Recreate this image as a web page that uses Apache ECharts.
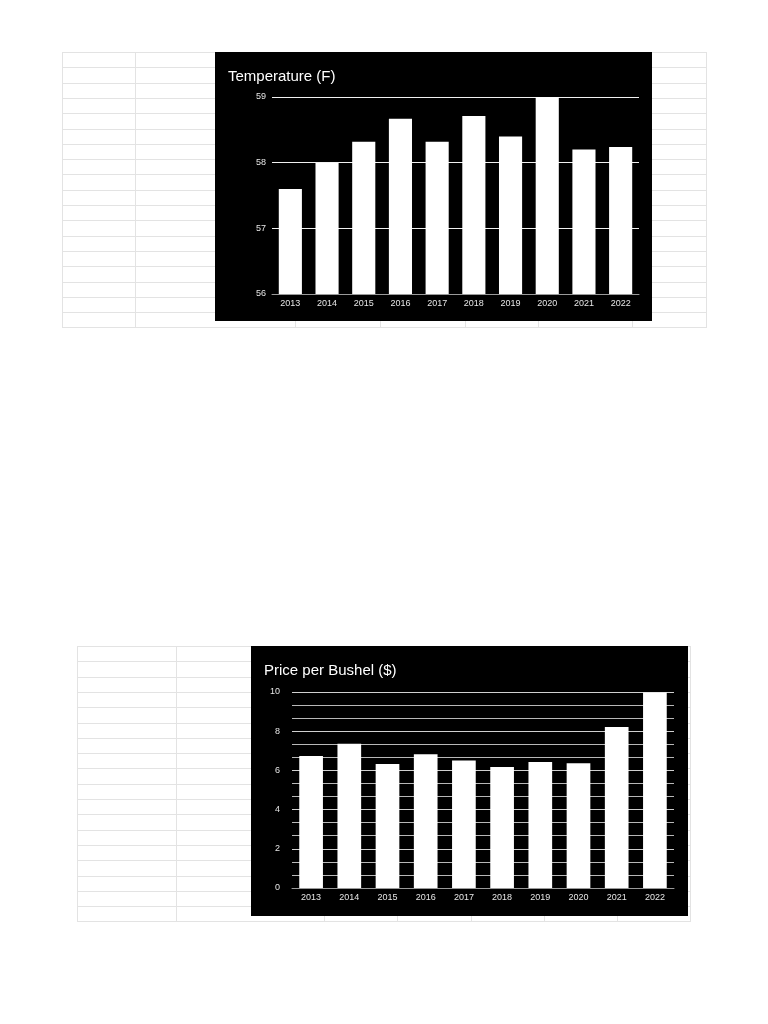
<!DOCTYPE html>
<html>
<head>
<meta charset="utf-8">
<script src="https://cdn.jsdelivr.net/npm/echarts@6/dist/echarts.min.js"></script>
<style>
  html, body { margin: 0; padding: 0; background: #ffffff; width: 768px; height: 1024px; overflow: hidden; }
  .sheet { position: absolute; border-top: 1px solid #e3e3e3; border-left: 1px solid #e3e3e3; border-right: 1px solid #e3e3e3; box-sizing: border-box;
    background-image: repeating-linear-gradient(to bottom, transparent 0px, transparent 14.3px, #e3e3e3 14.3px, #e3e3e3 15.3px); }
  .col { position: absolute; width: 1px; background: #e3e3e3; }
  .chart { position: absolute; background: #000000; }
</style>
</head>
<body>
<div id="sheet1" class="sheet" style="left:62px; top:52px; width:645px; height:276px;"></div>
<div id="sheet2" class="sheet" style="left:77px; top:646px; width:614px; height:276px;"></div>
<div id="c1" class="chart" style="left:215px; top:52px; width:437px; height:269px;"></div>
<div id="c2" class="chart" style="left:251px; top:646px; width:437px; height:270px;"></div>
<script>
// ---- data ----
const years = ['2013','2014','2015','2016','2017','2018','2019','2020','2021','2022'];
const temperatureF = [57.6, 58.0, 58.32, 58.67, 58.32, 58.71, 58.4, 59.0, 58.2, 58.24];
const pricePerBushel = [6.73, 7.36, 6.33, 6.82, 6.51, 6.17, 6.43, 6.36, 8.21, 9.97];
const titleTemp = 'Temperature (F)';
const titlePrice = 'Price per Bushel ($)';

// ---- spreadsheet column lines (decoration) ----
function addCols(xs, top, h) {
  xs.forEach(function (x) {
    const d = document.createElement('div');
    d.className = 'col';
    d.style.left = x + 'px'; d.style.top = top + 'px'; d.style.height = h + 'px';
    document.body.insertBefore(d, document.getElementById('c1'));
  });
}
addCols([135, 295, 380, 465, 538, 632], 52, 276);
addCols([176, 324, 397, 471, 544, 617], 646, 276);

const font = 'Liberation Sans, Arial, sans-serif';

function makeOption(title, data, yMin, yMax, interval, gridCfg, withMinor, labelMargin, gap) {
  return {
    backgroundColor: '#000000',
    animation: false,
    title: {
      text: title, left: 8, top: 12,
      textStyle: { color: '#ffffff', fontSize: 15, fontWeight: 'normal', fontFamily: font }
    },
    grid: gridCfg,
    xAxis: {
      type: 'category', data: years,
      axisLine: { show: true, lineStyle: { color: '#9a9a9a', width: 1 } },
      axisTick: { show: false },
      axisLabel: { color: '#e6e6e6', fontSize: 9, fontFamily: font, margin: 5 },
      splitLine: { show: false }
    },
    yAxis: {
      type: 'value', min: yMin, max: yMax, interval: interval,
      axisLine: { show: false }, axisTick: { show: false },
      axisLabel: { color: '#e6e6e6', fontSize: 9, fontFamily: font, margin: labelMargin },
      splitLine: { show: true, lineStyle: { color: withMinor ? '#d0d0d0' : '#f0f0f0', width: 1 } },
      minorTick: { show: false, splitNumber: 3 },
      minorSplitLine: { show: withMinor, lineStyle: { color: '#b8b8b8', width: 1 } }
    },
    series: [{
      type: 'bar', data: data, barCategoryGap: gap,
      itemStyle: { color: '#ffffff' }
    }]
  };
}

const c1 = echarts.init(document.getElementById('c1'));
c1.setOption(makeOption(titleTemp, temperatureF, 56, 59, 1,
  { left: 57, right: 13, top: 45, bottom: 27 }, false, 6, '37%'));

const c2 = echarts.init(document.getElementById('c2'));
c2.setOption(makeOption(titlePrice, pricePerBushel, 0, 10, 2,
  { left: 41, right: 14, top: 46, bottom: 28 }, true, 12, '38%'));
</script>
</body>
</html>
